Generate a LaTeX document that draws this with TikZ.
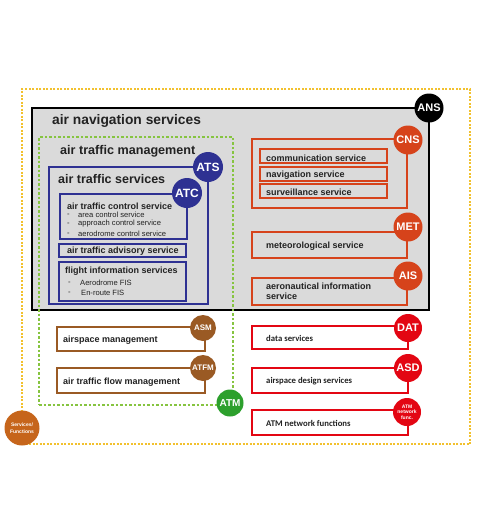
\documentclass[tikz,border=0pt]{standalone}
\usepackage{fontspec}
\setmainfont{Liberation Sans}
\newfontfamily\calfont{Carlito}
\definecolor{yc}{HTML}{F2C12E}
\definecolor{gc}{HTML}{86C440}
\definecolor{atmg}{HTML}{2DA02D}
\definecolor{bc}{HTML}{2E3192}
\definecolor{oc}{HTML}{D6431B}
\definecolor{rc}{HTML}{E30613}
\definecolor{brc}{HTML}{9A5A24}
\definecolor{svc}{HTML}{C6651B}
\definecolor{grayc}{HTML}{DADADA}
\definecolor{txt}{HTML}{222222}
\tikzset{
 frame/.style={draw, inner sep=0, outer sep=0, anchor=north west},
 lab/.style={anchor=west, inner sep=0, text=txt, font=\bfseries\fontsize{9}{10}\selectfont},
 clab/.style={anchor=west, inner sep=0, text=txt, font=\calfont\bfseries\fontsize{8.7}{10}\selectfont},
 small/.style={anchor=west, inner sep=0, text=txt, font=\fontsize{7.6}{8}\selectfont},
 badge/.style={circle, inner sep=0, minimum size=29, text=white, align=center, font=\bfseries\fontsize{11}{12}\selectfont},
}
\newcommand\boxat[6]{\node[frame,#6,minimum width={#4-#2},minimum height={#5-#3}] (#1) at (#2,#3) {};}
\begin{document}
\begin{tikzpicture}[x=1pt,y=-1pt]
\useasboundingbox (0,0) rectangle (477,530);
% frames
\boxat{outer}{22}{89}{470}{444}{draw=yc, line width=1.5, dash pattern=on 2pt off 1.5pt}
\boxat{ansbox}{32}{108}{429}{310}{draw=black, line width=2, fill=grayc}
\boxat{atmbox}{39}{137}{233}{405}{draw=gc, line width=1.4, dash pattern=on 2.5pt off 2pt}
% ATS
\boxat{atsbox}{49}{167}{208}{304}{draw=bc, line width=1.6}
\boxat{atcbox}{60}{194}{187}{239}{draw=bc, line width=1.6}
\boxat{advbox}{59}{244}{186}{257}{draw=bc, line width=1.6}
\boxat{fisbox}{59}{262}{186}{301}{draw=bc, line width=1.6}
% CNS etc.
\boxat{cnsbox}{252}{139}{407}{208}{draw=oc, line width=1.5}
\boxat{combox}{260}{149}{387}{163}{draw=oc, line width=1.5}
\boxat{navbox}{260}{167}{387}{181}{draw=oc, line width=1.5}
\boxat{surbox}{260}{184}{387}{198}{draw=oc, line width=1.5}
\boxat{metbox}{252}{232}{407}{258}{draw=oc, line width=1.5}
\boxat{aisbox}{252}{278}{407}{305}{draw=oc, line width=1.5}
% lower
\boxat{asmbox}{57}{327}{205}{351}{draw=brc, line width=1.5, fill=white}
\boxat{atfmbox}{57}{368}{205}{393}{draw=brc, line width=1.5, fill=white}
\boxat{datbox}{252}{326}{408}{349}{draw=rc, line width=1.5, fill=white}
\boxat{asdbox}{252}{368}{408}{393}{draw=rc, line width=1.5, fill=white}
\boxat{netbox}{252}{410}{408}{435}{draw=rc, line width=1.5, fill=white}
% titles
\node[lab, font=\bfseries\fontsize{13.8}{15}\selectfont] (t1) at (52,121) {air navigation services};
\node[lab, font=\bfseries\fontsize{12.6}{14}\selectfont] (t2) at (60,151) {air traffic management};
\node[lab, font=\bfseries\fontsize{12.5}{14}\selectfont] (t3) at (58,179) {air traffic services};
\node[lab] (t4) at (67,206) {air traffic control service};
\node[small] (d1) at (67,215) {-};
\node[small] (s1) at (78,215) {area control service};
\node[small] (d2) at (67,224) {-};
\node[small] (s2) at (78,224) {approach control service};
\node[small] (d3) at (67,234) {-};
\node[small] (s3) at (78,234) {aerodrome control service};
\node[lab] (t5) at (67,251) {air traffic advisory service};
\node[lab] (t6) at (65,271) {flight information services};
\node[small] (d4) at (68,283) {-};
\node[small] (s4) at (80,283) {Aerodrome FIS};
\node[small] (d5) at (68,293) {-};
\node[small] (s5) at (81,293) {En-route FIS};
\node[lab] (r1) at (266,158) {communication service};
\node[lab] (r2) at (266,175) {navigation service};
\node[lab] (r3) at (266,192) {surveillance service};
\node[lab] (r4) at (266,246) {meteorological service};
\node[lab] (r5) at (266,286) {aeronautical information};
\node[lab] (r6) at (266,296) {service};
\node[lab] (l1) at (63,340) {airspace management};
\node[lab] (l2) at (63,382) {air traffic flow management};
\node[clab] (c1) at (266,338) {data services};
\node[clab] (c2) at (266,381) {airspace design services};
\node[clab] (c3) at (266,423) {ATM network functions};
% badges
\node[badge, fill=black] (ans) at (429,108) {ANS};
\node[badge, fill=oc] (cns) at (408,140) {CNS};
\node[badge, fill=bc, minimum size=30, font=\bfseries\fontsize{12}{13}\selectfont] (ats) at (208,167) {ATS};
\node[badge, fill=bc, minimum size=30, font=\bfseries\fontsize{12}{13}\selectfont] (atc) at (187,193) {ATC};
\node[badge, fill=oc] (met) at (408,227) {MET};
\node[badge, fill=oc] (ais) at (408,276) {AIS};
\node[badge, fill=brc, minimum size=26, font=\bfseries\fontsize{8}{9}\selectfont] (asm) at (203,328) {ASM};
\node[badge, fill=brc, minimum size=26, font=\bfseries\fontsize{8}{9}\selectfont] (atfm) at (203,368) {ATFM};
\node[badge, fill=atmg, minimum size=27, font=\bfseries\fontsize{10}{11}\selectfont] (atm) at (230,403) {ATM};
\node[badge, fill=rc, minimum size=28] (dat) at (408,328) {DAT};
\node[badge, fill=rc, minimum size=28] (asd) at (408,368) {ASD};
\node[badge, fill=rc, minimum size=28, font=\bfseries\fontsize{5}{5.6}\selectfont] (net) at (407,412) {ATM\\network\\func.};
\node[badge, fill=svc, minimum size=35, font=\bfseries\fontsize{5}{6.5}\selectfont] (svf) at (22,428) {Services/\\Functions};
\end{tikzpicture}
\end{document}
